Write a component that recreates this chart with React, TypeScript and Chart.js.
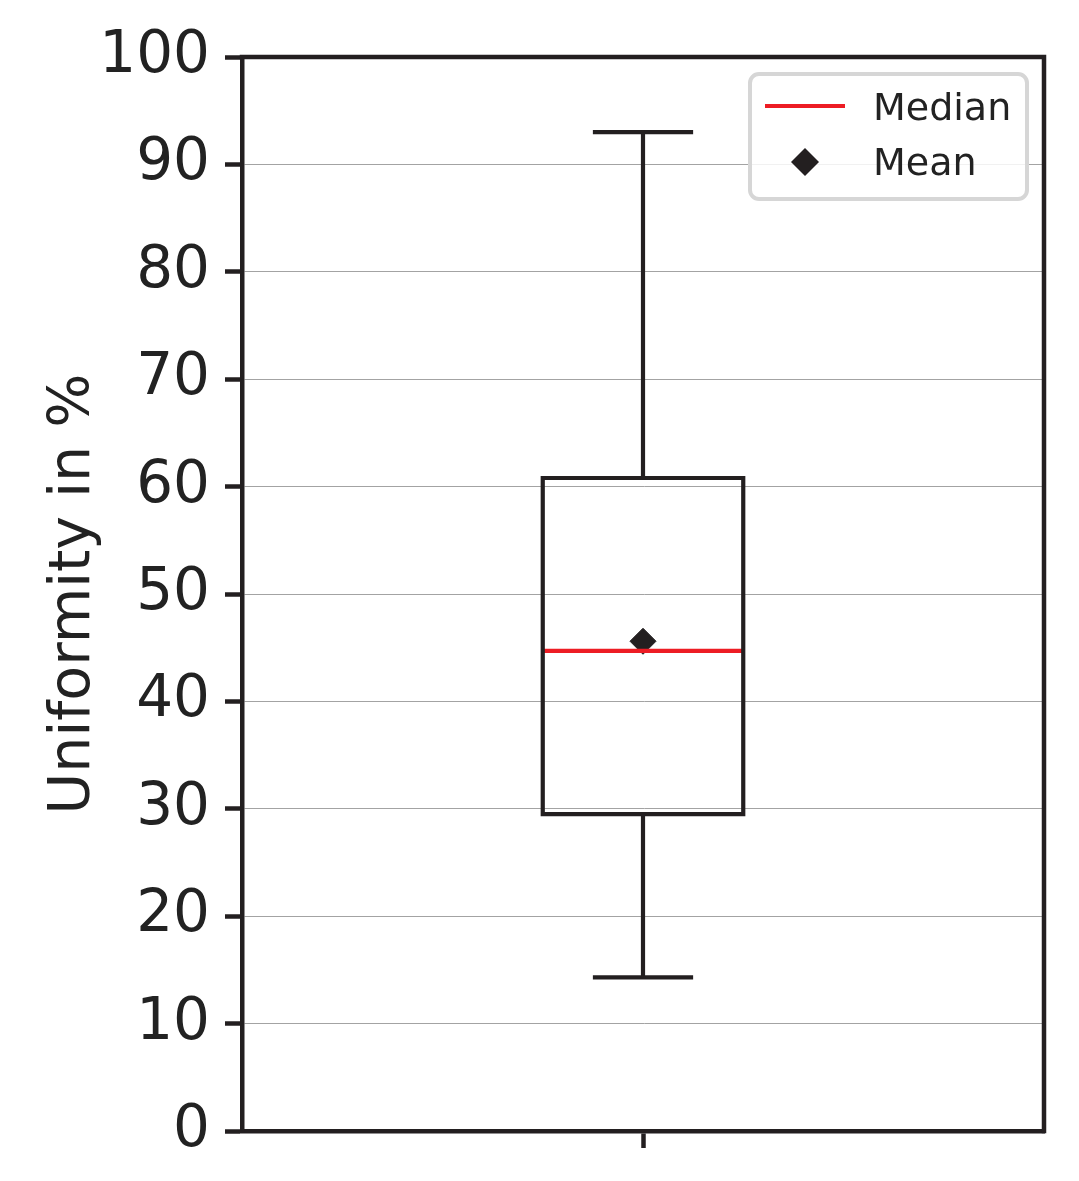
import { useEffect, useRef } from 'react';
import { Chart, registerables } from 'chart.js';

Chart.register(...registerables);

// ---- data ----
const categories = [1];
const whiskerLow = [14.3];
const q1 = [29.5];
const medians = [44.7];
const q3 = [60.8];
const whiskerHigh = [93.0];
const means = [45.6];
const yTicks = [0, 10, 20, 30, 40, 50, 60, 70, 80, 90, 100];
const legendLabels = ['Median', 'Mean'];
const yTitle = 'Uniformity in %';

// ---- styles ----
const BOX_WIDTH = 0.25;
const DARK = '#231f20';
const RED = '#ed1c24';
const GRID = '#a3a3a3';
const FONT = "'DejaVu Sans', sans-serif";
const AXIS_W = 4.5;

function buildDatasets() {
  const ds: any[] = [];
  const line = (data: any[], color: string, width = 4.2) => ({
    type: 'scatter',
    data,
    showLine: true,
    borderColor: color,
    borderWidth: width,
    pointRadius: 0,
    pointHoverRadius: 0,
    fill: false,
    borderCapStyle: 'butt',
    borderJoinStyle: 'miter',
  });
  categories.forEach((c, i) => {
    const h = BOX_WIDTH / 2;
    const capH = BOX_WIDTH / 4;
    ds.push(line([{ x: c, y: whiskerLow[i] }, { x: c, y: q1[i] }], DARK));
    ds.push(line([{ x: c, y: q3[i] }, { x: c, y: whiskerHigh[i] }], DARK));
    ds.push(line([{ x: c - capH, y: whiskerLow[i] }, { x: c + capH, y: whiskerLow[i] }], DARK));
    ds.push(line([{ x: c - capH, y: whiskerHigh[i] }, { x: c + capH, y: whiskerHigh[i] }], DARK));
    ds.push(
      line(
        [
          { x: c - h, y: q1[i] },
          { x: c + h, y: q1[i] },
          { x: c + h, y: q3[i] },
          { x: c - h, y: q3[i] },
          { x: c - h, y: q1[i] },
          { x: c + h, y: q1[i] },
        ],
        DARK,
      ),
    );
    ds.push(line([{ x: c - h, y: medians[i] }, { x: c + h, y: medians[i] }], RED));
    ds.push({
      type: 'scatter',
      data: [{ x: c, y: means[i] }],
      pointStyle: 'rectRot',
      pointRadius: 13,
      pointHoverRadius: 13,
      backgroundColor: DARK,
      borderColor: DARK,
      borderWidth: 1,
      showLine: false,
    });
  });
  return ds;
}

const framePlugin = {
  id: 'frame',
  afterDraw(chart: any) {
    const { ctx, chartArea } = chart;
    const { left, right, top, bottom } = chartArea;
    ctx.save();
    ctx.strokeStyle = DARK;
    ctx.lineWidth = AXIS_W;
    ctx.lineJoin = 'miter';
    ctx.beginPath();
    ctx.moveTo(left - AXIS_W / 2, top);
    ctx.lineTo(right, top);
    ctx.lineTo(right, bottom + AXIS_W / 2);
    ctx.stroke();
    ctx.restore();
  },
};

const legendPlugin = {
  id: 'boxLegend',
  afterDraw(chart: any) {
    const { ctx, chartArea } = chart;
    const W = 277;
    const H = 125;
    const L = chartArea.right - 17 - W;
    const T = chartArea.top + 17;
    ctx.save();
    const r = 9;
    ctx.beginPath();
    ctx.moveTo(L + r, T);
    ctx.lineTo(L + W - r, T);
    ctx.arcTo(L + W, T, L + W, T + r, r);
    ctx.lineTo(L + W, T + H - r);
    ctx.arcTo(L + W, T + H, L + W - r, T + H, r);
    ctx.lineTo(L + r, T + H);
    ctx.arcTo(L, T + H, L, T + H - r, r);
    ctx.lineTo(L, T + r);
    ctx.arcTo(L, T, L + r, T, r);
    ctx.closePath();
    ctx.fillStyle = 'rgba(255,255,255,0.85)';
    ctx.fill();
    ctx.strokeStyle = '#d6d6d6';
    ctx.lineWidth = 4;
    ctx.stroke();
    ctx.strokeStyle = RED;
    ctx.lineWidth = 4;
    ctx.beginPath();
    ctx.moveTo(L + 15, T + 32);
    ctx.lineTo(L + 95, T + 32);
    ctx.stroke();
    const cx = L + 55;
    const cy = T + 88;
    const d = 14;
    ctx.fillStyle = DARK;
    ctx.beginPath();
    ctx.moveTo(cx, cy - d);
    ctx.lineTo(cx + d, cy);
    ctx.lineTo(cx, cy + d);
    ctx.lineTo(cx - d, cy);
    ctx.closePath();
    ctx.fill();
    ctx.fillStyle = '#222222';
    ctx.font = `38px ${FONT}`;
    ctx.textAlign = 'left';
    ctx.textBaseline = 'alphabetic';
    ctx.fillText(legendLabels[0], L + 123, T + 46);
    ctx.fillText(legendLabels[1], L + 123, T + 101);
    ctx.restore();
  },
};

export default function App() {
  const ref = useRef<HTMLCanvasElement | null>(null);
  useEffect(() => {
    if (!ref.current) return;
    const chart = new Chart(ref.current, {
      type: 'scatter',
      data: { datasets: buildDatasets() },
      options: {
        animation: false,
        responsive: false,
        devicePixelRatio: 1,
        events: [],
        layout: { padding: { left: 0, right: 35, top: 57, bottom: 0 } },
        plugins: {
          legend: { display: false },
          tooltip: { enabled: false },
          title: { display: false },
        },
        scales: {
          x: {
            type: 'linear',
            min: 0.5,
            max: 1.5,
            afterBuildTicks: (scale: any) => {
              scale.ticks = categories.map((c) => ({ value: c }));
            },
            afterFit: (scale: any) => {
              scale.height = 50;
            },
            ticks: { display: false },
            grid: {
              drawOnChartArea: false,
              drawTicks: true,
              tickLength: 17,
              tickColor: DARK,
              tickWidth: AXIS_W,
            },
            border: { display: true, color: DARK, width: AXIS_W },
          },
          y: {
            type: 'linear',
            min: 0,
            max: 100,
            afterBuildTicks: (scale: any) => {
              scale.ticks = yTicks.map((v) => ({ value: v }));
            },
            afterFit: (scale: any) => {
              scale.width = 242;
            },
            ticks: {
              color: '#222222',
              font: { family: FONT, size: 58 },
              padding: 15,
            },
            grid: {
              drawOnChartArea: true,
              color: GRID,
              lineWidth: 1,
              drawTicks: true,
              tickLength: 17,
              tickColor: DARK,
              tickWidth: AXIS_W,
            },
            border: { display: true, color: DARK, width: AXIS_W },
            title: {
              display: true,
              text: yTitle,
              color: '#222222',
              font: { family: FONT, size: 57 },
              padding: { top: 40, bottom: 0 },
            },
          },
        },
      },
      plugins: [framePlugin, legendPlugin],
    } as any);
    return () => chart.destroy();
  }, []);
  return (
    <div style={{ position: 'absolute', left: 0, top: 0 }}>
      <canvas ref={ref} width={1079} height={1181} />
    </div>
  );
}
